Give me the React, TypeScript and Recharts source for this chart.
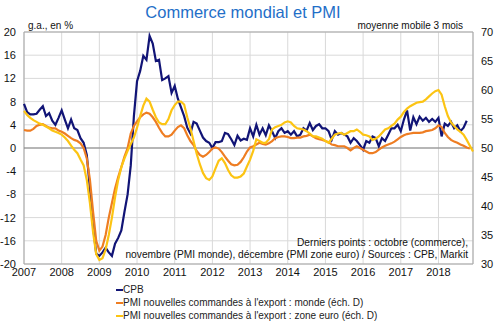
import React from "react";
import {
  LineChart, Line, XAxis, YAxis, CartesianGrid, ReferenceLine, ReferenceArea
} from "recharts";

// monthly, jan 2007 -> oct 2018 (g.a., en %, mm3)
const cpb = [
  7.6, 6.2, 5.8, 5.8, 5.9, 6.6, 7.2, 5.5, 6.0, 4.7, 4.0, 5.2,
  6.5, 4.9, 3.4, 4.9, 3.4, 3.1, 1.7, 0.9, -1.2, -7.0, -13.5, -18.2,
  -18.6, -18.0, -17.2, -18.0, -18.6, -16.5, -15.5, -14.2, -11.0, -8.0, -3.0, 5.5,
  11.5, 13.3, 15.9, 15.2, 19.3, 18.0, 15.0, 15.2, 11.7, 12.0, 12.4, 9.5,
  10.7, 8.5, 7.0, 5.5, 3.5, 2.5, 4.5, 4.2, 3.0, 1.8, 1.2, 0.9,
  0.0, 1.0, 1.0, 1.2, 2.6, 2.4, 1.5, 0.5, 2.1, 1.3, 1.6, 1.4,
  3.4, 2.0, 4.0, 2.3, 3.4, 2.2, 3.9, 2.9, 1.7, 2.9, 3.4, 2.6,
  2.9, 2.3, 2.9, 2.0, 2.3, 3.4, 3.0, 4.3, 3.1, 3.8, 4.1, 3.4,
  3.4, 2.9, 1.4, 2.9, 2.3, 2.6, 2.3, 2.0, 0.9, 1.7, 1.2, 0.5,
  -0.3, 1.2, 0.9, 2.0, 1.7, 0.3, 1.7, 1.2, 2.3, 3.4, 3.4, 4.0,
  2.9, 4.9, 6.5, 3.0, 5.3, 4.1, 5.4, 4.7, 5.2, 4.5, 5.0, 4.5,
  5.2, 2.0, 4.2, 3.8, 4.5, 3.4, 3.9, 2.9, 3.5, 4.7,
];

// jan 2007 -> nov 2018
const pmiMonde = [
  53.1, 53.0, 53.0, 53.3, 53.8, 54.0, 54.1, 53.8, 53.5, 53.4, 53.4, 53.0,
  52.8, 52.5, 52.1, 51.7, 51.4, 51.2, 50.8, 50.0, 48.2, 44.5, 39.0, 34.0,
  32.3, 33.0, 35.0, 38.0, 40.5, 43.0, 45.0, 46.7, 48.5, 50.0, 52.5, 53.8,
  54.6, 55.3, 55.8, 56.1, 55.9, 55.3, 54.5, 53.5, 52.6, 52.0, 52.0, 52.3,
  53.0, 53.6, 53.9, 53.4, 52.2, 51.2, 50.5, 49.5, 48.8, 48.5, 48.8, 49.3,
  49.9, 50.1, 49.9, 49.3, 48.5, 47.8, 47.2, 47.0, 47.1, 47.6, 48.4, 49.4,
  50.1, 50.3, 50.6, 50.9, 50.7, 50.6, 50.8, 51.2, 51.7, 51.9, 52.0, 52.0,
  51.9, 51.7, 51.7, 51.8, 51.8, 52.0, 52.1, 52.3, 52.0, 51.7, 51.5, 51.4,
  51.2, 51.0, 50.6, 50.5, 50.3, 50.3, 50.3, 50.0, 49.6, 50.0, 50.3, 50.0,
  49.7, 49.4, 49.1, 49.1, 49.3, 49.7, 50.1, 50.4, 50.6, 50.8, 51.1, 51.5,
  51.9, 52.2, 52.4, 52.5, 52.6, 52.6, 52.6, 52.7, 52.9, 53.0, 53.1, 53.4,
  53.9, 53.6, 52.6, 51.9, 51.4, 51.1, 50.9, 50.6, 50.4, 50.1, 49.9,
];

// jan 2007 -> dec 2018
const pmiZoneEuro = [
  56.4, 55.7, 55.2, 54.8, 54.5, 54.2, 54.0, 53.7, 53.4, 53.0, 52.8, 52.6,
  52.3, 51.8, 51.2, 50.4, 49.7, 49.1, 48.0, 47.0, 44.5, 40.5, 35.5, 31.7,
  30.7, 31.0, 32.5, 35.0, 38.0, 41.5, 44.5, 46.7, 48.2, 49.5, 50.7, 51.8,
  53.5, 55.5, 57.3, 58.5, 58.0, 56.6, 55.3, 54.4, 54.1, 54.1, 55.0, 56.5,
  57.4, 58.0, 58.0, 57.5, 55.3, 53.4, 51.2, 49.0, 47.2, 45.7, 44.8, 44.5,
  45.1, 46.5, 47.8, 48.2, 47.4, 46.2, 45.3, 44.9, 44.9, 45.1, 45.6, 46.8,
  48.0, 49.5, 51.5, 51.2, 50.9, 50.9, 51.5, 53.2, 53.6, 53.8, 54.0, 54.4,
  54.6, 54.4, 53.8, 53.4, 53.3, 53.2, 52.9, 52.5, 52.0, 52.0, 51.8, 51.6,
  51.2, 50.9, 51.6, 52.3, 52.5, 52.6, 52.3, 52.6, 52.9, 52.9, 53.2, 52.8,
  52.3, 52.2, 52.0, 51.4, 51.6, 52.0, 52.6, 53.2, 53.4, 53.8, 54.2, 54.9,
  55.4, 56.2, 56.8, 57.2, 57.5, 57.8, 57.9, 58.0, 58.4, 58.9, 59.4, 59.8,
  60.0, 59.2, 57.2, 55.5, 54.4, 53.8, 53.2, 52.8, 52.3, 51.4, 50.4, 49.4,
];

const years = ["2007", "2008", "2009", "2010", "2011", "2012", "2013", "2014", "2015", "2016", "2017", "2018"];
const leftTicks = [-20, -16, -12, -8, -4, 0, 4, 8, 12, 16, 20];
const rightTicks = [30, 35, 40, 45, 50, 55, 60, 65, 70];

const FONT = "'Liberation Sans', Arial, sans-serif";

const series = [
  { key: "cpb", name: "CPB", color: "#111476", axis: "left" },
  { key: "monde", name: "PMI nouvelles commandes à l'export : monde (éch. D)", color: "#ee7d22", axis: "right" },
  { key: "euro", name: "PMI nouvelles commandes à l'export : zone euro (éch. D)", color: "#fcc413", axis: "right" },
];

const data = Array.from({ length: 144 }, (_, i) => ({
  t: i,
  cpb: cpb[i],
  monde: pmiMonde[i],
  euro: pmiZoneEuro[i],
}));

const LegendBox = () => (
  <div style={{ position: "absolute", left: 116, top: 283, fontFamily: FONT, fontSize: 10, color: "#222" }}>
    {series.map((s) => (
      <div key={s.key} style={{ display: "flex", alignItems: "center", height: 13 }}>
        <span style={{ display: "inline-block", width: 7, height: 2, background: s.color }} />
        <span>{s.name}</span>
      </div>
    ))}
  </div>
);

export default function App() {
  const tickStyle = { fontSize: 11, fill: "#111", fontFamily: FONT };
  return (
    <div style={{ position: "absolute", left: 0, top: 0, width: 500, height: 327, background: "#fff" }}>
      <LineChart width={500} height={327} data={data} margin={{ top: 32, right: 0, left: 0, bottom: 49 }}>
        <CartesianGrid yAxisId="left" stroke="#d9d9d9" strokeWidth={1} />
        <XAxis
          dataKey="t"
          type="number"
          domain={[0, 143]}
          ticks={years.map((_, i) => i * 12)}
          tickFormatter={(v) => years[v / 12]}
          axisLine={false}
          tickLine={false}
          tickSize={2}
          tickMargin={2}
          height={14}
          tick={tickStyle}
        />
        <YAxis
          yAxisId="left"
          domain={[-20, 20]}
          ticks={leftTicks}
          axisLine={false}
          tickLine={false}
          width={24}
          tick={tickStyle}
        />
        <YAxis
          yAxisId="right"
          orientation="right"
          domain={[30, 70]}
          ticks={rightTicks}
          axisLine={false}
          tickLine={false}
          width={27}
          tick={tickStyle}
        />
        <ReferenceArea yAxisId="left" x1={0} x2={143} y1={-20} y2={20} fill="none" stroke="#a6a6a6" />
        <ReferenceLine yAxisId="left" y={0} stroke="#808080" strokeWidth={1.2} />
        {series.map((s) => (
          <Line
            key={s.key}
            yAxisId={s.axis}
            dataKey={s.key}
            name={s.name}
            stroke={s.color}
            strokeWidth={2.2}
            dot={false}
            type="linear"
            isAnimationActive={false}
          />
        ))}
      </LineChart>
      <svg width={500} height={327} style={{ position: "absolute", left: 0, top: 0, pointerEvents: "none" }}>
        <text x={243} y={12} textAnchor="middle" dominantBaseline="central" fontFamily={FONT} fontSize={16.5} fill="#1f6fc8">
          Commerce mondial et PMI
        </text>
        <text x={28} y={25} dominantBaseline="central" fontFamily={FONT} fontSize={10} fill="#111">g.a., en %</text>
        <text x={463} y={25} textAnchor="end" dominantBaseline="central" fontFamily={FONT} fontSize={10} fill="#111">
          moyenne mobile 3 mois
        </text>
        <text x={468} y={242} textAnchor="end" dominantBaseline="central" fontFamily={FONT} fontSize={10.2} fill="#111">
          Derniers points : octobre (commerce),
        </text>
        <text x={468} y={254} textAnchor="end" dominantBaseline="central" fontFamily={FONT} fontSize={10.2} fill="#111">
          novembre (PMI monde), décembre (PMI zone euro) / Sources : CPB, Markit
        </text>
      </svg>
      <LegendBox />
    </div>
  );
}
